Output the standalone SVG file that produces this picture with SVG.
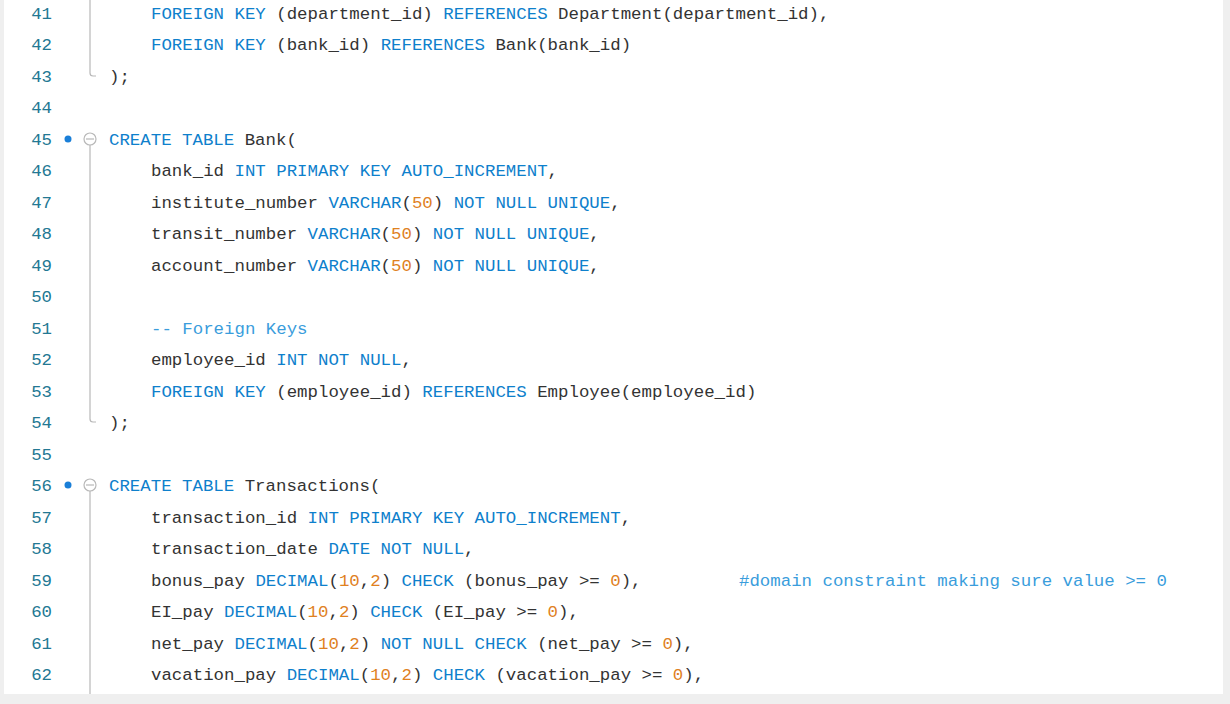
<svg xmlns="http://www.w3.org/2000/svg" width="1230" height="704" viewBox="0 0 1230 704">
<style>
text{font-family:"Liberation Mono","DejaVu Sans Mono",monospace;font-size:17.4px;fill:#333;white-space:pre}
.ln{fill:#237893;text-anchor:end}
.k{fill:#0e80cc}
.n{fill:#e0811f}
.c{fill:#3a9ddc}
.g{stroke:#b8b8b8;stroke-width:1.2;fill:none}
</style>
<rect width="1230" height="704" fill="#efefef"/>
<rect x="4" y="0" width="1219" height="694" fill="#fff"/>
<g id="gutter">
<text class="ln" x="52" y="19">41</text>
<text class="ln" x="52" y="50">42</text>
<text class="ln" x="52" y="82">43</text>
<text class="ln" x="52" y="113">44</text>
<text class="ln" x="52" y="145">45</text>
<text class="ln" x="52" y="176">46</text>
<text class="ln" x="52" y="208">47</text>
<text class="ln" x="52" y="239">48</text>
<text class="ln" x="52" y="271">49</text>
<text class="ln" x="52" y="302">50</text>
<text class="ln" x="52" y="334">51</text>
<text class="ln" x="52" y="365">52</text>
<text class="ln" x="52" y="397">53</text>
<text class="ln" x="52" y="428">54</text>
<text class="ln" x="52" y="460">55</text>
<text class="ln" x="52" y="491">56</text>
<text class="ln" x="52" y="523">57</text>
<text class="ln" x="52" y="554">58</text>
<text class="ln" x="52" y="586">59</text>
<text class="ln" x="52" y="617">60</text>
<text class="ln" x="52" y="649">61</text>
<text class="ln" x="52" y="680">62</text>
<circle cx="68" cy="139" r="3.5" fill="#1a7fd8"/>
<circle cx="68" cy="485" r="3.5" fill="#1a7fd8"/>
<circle cx="90" cy="139" r="6" class="g"/><line x1="86" y1="139" x2="94" y2="139" class="g"/>
<circle cx="90" cy="485" r="6" class="g"/><line x1="86" y1="485" x2="94" y2="485" class="g"/>
<path d="M90 0V73q0 3 3 3h3" class="g"/>
<path d="M90 145V419q0 3 3 3h3" class="g"/>
<path d="M90 491V694" class="g"/>
</g>
<g id="code">
<text x="151" y="19"><tspan class="k">FOREIGN KEY</tspan> (department_id) <tspan class="k">REFERENCES</tspan> Department(department_id),</text>
<text x="151" y="50"><tspan class="k">FOREIGN KEY</tspan> (bank_id) <tspan class="k">REFERENCES</tspan> Bank(bank_id)</text>
<text x="109" y="82">);</text>
<text x="109" y="145"><tspan class="k">CREATE TABLE</tspan> Bank(</text>
<text x="151" y="176">bank_id <tspan class="k">INT PRIMARY KEY AUTO_INCREMENT</tspan>,</text>
<text x="151" y="208">institute_number <tspan class="k">VARCHAR</tspan>(<tspan class="n">50</tspan>) <tspan class="k">NOT NULL UNIQUE</tspan>,</text>
<text x="151" y="239">transit_number <tspan class="k">VARCHAR</tspan>(<tspan class="n">50</tspan>) <tspan class="k">NOT NULL UNIQUE</tspan>,</text>
<text x="151" y="271">account_number <tspan class="k">VARCHAR</tspan>(<tspan class="n">50</tspan>) <tspan class="k">NOT NULL UNIQUE</tspan>,</text>
<text x="151" y="334" class="c">-- Foreign Keys</text>
<text x="151" y="365">employee_id <tspan class="k">INT NOT NULL</tspan>,</text>
<text x="151" y="397"><tspan class="k">FOREIGN KEY</tspan> (employee_id) <tspan class="k">REFERENCES</tspan> Employee(employee_id)</text>
<text x="109" y="428">);</text>
<text x="109" y="491"><tspan class="k">CREATE TABLE</tspan> Transactions(</text>
<text x="151" y="523">transaction_id <tspan class="k">INT PRIMARY KEY AUTO_INCREMENT</tspan>,</text>
<text x="151" y="554">transaction_date <tspan class="k">DATE NOT NULL</tspan>,</text>
<text x="151" y="586">bonus_pay <tspan class="k">DECIMAL</tspan>(<tspan class="n">10</tspan>,<tspan class="n">2</tspan>) <tspan class="k">CHECK</tspan> (bonus_pay &gt;= <tspan class="n">0</tspan>),</text>
<text x="739" y="586" class="c">#domain constraint making sure value &gt;= 0</text>
<text x="151" y="617">EI_pay <tspan class="k">DECIMAL</tspan>(<tspan class="n">10</tspan>,<tspan class="n">2</tspan>) <tspan class="k">CHECK</tspan> (EI_pay &gt;= <tspan class="n">0</tspan>),</text>
<text x="151" y="649">net_pay <tspan class="k">DECIMAL</tspan>(<tspan class="n">10</tspan>,<tspan class="n">2</tspan>) <tspan class="k">NOT NULL CHECK</tspan> (net_pay &gt;= <tspan class="n">0</tspan>),</text>
<text x="151" y="680">vacation_pay <tspan class="k">DECIMAL</tspan>(<tspan class="n">10</tspan>,<tspan class="n">2</tspan>) <tspan class="k">CHECK</tspan> (vacation_pay &gt;= <tspan class="n">0</tspan>),</text>
</g>
</svg>
